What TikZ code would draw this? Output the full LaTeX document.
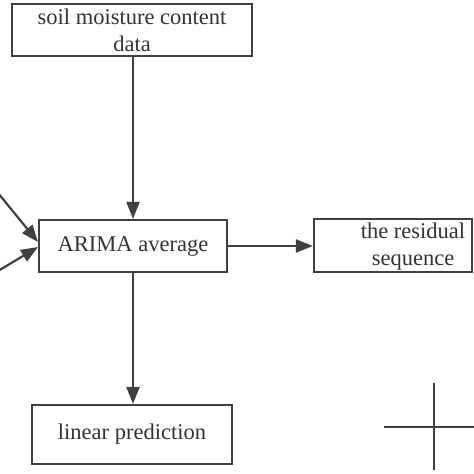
\documentclass[tikz,border=0pt]{standalone}
\usepackage{fontspec}
\setmainfont{Liberation Serif}
\usetikzlibrary{arrows.meta}
\definecolor{ink}{HTML}{404040}
\definecolor{txt}{HTML}{333333}
\begin{document}
\begin{tikzpicture}[x=1pt,y=-1pt,
  box/.style={draw=ink,line width=2.2pt,inner sep=0pt,fill=white,text=txt,align=center,
    font=\fontsize{22.5}{27}\selectfont},
  lbl/.style={inner sep=0pt,text=txt,align=center,font=\fontsize{22.5}{27}\selectfont},
  conn/.style={draw=ink,line width=2.2pt,-{Triangle[length=17pt,width=13pt]}},
  plain/.style={draw=ink,line width=2.2pt}]
\useasboundingbox (0,0) rectangle (474,474);
\node[box,minimum width=240pt,minimum height=52pt] (soil) at (132,30) {soil moisture content\\data};
\node[box,minimum width=188pt,minimum height=52pt] (arima) at (133,246) {ARIMA average};
\node[box,minimum width=158pt,minimum height=53pt] (resid) at (393,245.5) {};
\node[lbl] (residtxt) at (413,246.5) {the residual\\sequence};
\node[box,minimum width=200pt,minimum height=59pt] (linear) at (132,434.5) {linear prediction};
\coordinate (in1) at (-2,193);
\coordinate (in2) at (-2,271);
\draw[conn] (soil.south -| arima.north) -- (arima.north);
\draw[conn] (in1) -- (38,242);
\draw[conn] (in2) -- (38,247);
\draw[conn] (arima.east) -- (resid.west |- arima.east);
\draw[conn] (arima.south) -- (linear.north -| arima.south);
\coordinate (ch1) at (384,427);
\coordinate (ch2) at (476,427);
\coordinate (cv1) at (434,383);
\coordinate (cv2) at (434,470);
\draw[plain] (ch1) -- (ch2);
\draw[plain] (cv1) -- (cv2);
\end{tikzpicture}
\end{document}
